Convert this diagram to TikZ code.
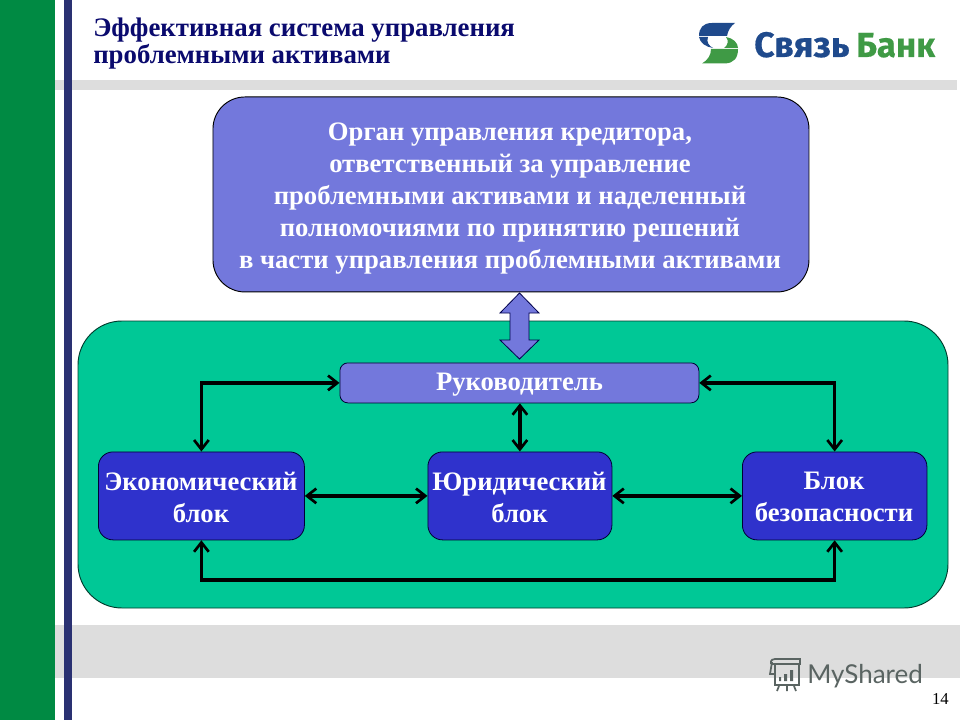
\documentclass[tikz,border=0pt]{standalone}
\usepackage{fontspec}
\setmainfont{Liberation Serif}
\newfontfamily\logofont[BoldFeatures={FakeBold=0.5}]{Fira Sans}
\newfontfamily\wmfont{Lato}
\usetikzlibrary{arrows.meta}
\definecolor{sidegreen}{HTML}{008A43}
\definecolor{sidenavy}{HTML}{2A3172}
\definecolor{bandgray}{HTML}{DDDDDD}
\definecolor{titlenavy}{HTML}{0A0A6E}
\definecolor{lilac}{HTML}{7378DC}
\definecolor{teal}{HTML}{00C896}
\definecolor{royal}{HTML}{2F32CC}
\definecolor{logoblue}{HTML}{1F4A8C}
\definecolor{logogreen}{HTML}{3F9A45}
\definecolor{wmgray}{HTML}{5A6462}
\tikzset{
  x=0.75pt,y=-0.75pt,
  boxtext/.style={text=white,font=\bfseries\fontsize{20}{24}\selectfont,align=center,inner sep=0pt},
  smallblock/.style={draw=black!80!blue,line width=0.6pt,fill=royal,rounded corners=11pt,minimum height=88*0.75pt,inner sep=0pt,anchor=north west},
  link/.style={line width=2.4pt,draw=black,{Straight Barb[length=7pt,width=11pt,line width=2pt]}-{Straight Barb[length=7pt,width=11pt,line width=2pt]}},
}
\begin{document}
\begin{tikzpicture}
\useasboundingbox (0,0) rectangle (960,720);
\fill[white] (0,0) rectangle (960,720);
% bands
\fill[bandgray] (55,80) rectangle (957,90);
\fill[bandgray] (55,625) rectangle (960,678);
\fill[sidegreen] (0,0) rectangle (55,720);
\fill[sidenavy] (64,0) rectangle (72,720);
% title
\node[anchor=north west,inner sep=0pt,text=titlenavy,align=left,font=\bfseries\fontsize{20.1}{20}\selectfont] (title) at (93,17.5) {Эффективная система управления\\проблемными активами};
% logo
\fill[logoblue] (735,23) -- (712,23) .. controls (703,23) and (699,28) .. (699,36) -- (727,36) .. controls (728,30) and (731,26) .. (735,23) -- cycle;
\fill[logoblue] (699,37) -- (708,37) .. controls (706,42) and (709,46) .. (713,48) .. controls (706,47) and (700,43) .. (699,37) -- cycle;
\fill[logogreen] (702,63.5) -- (725,63.5) .. controls (734,63) and (738,58) .. (738,49) -- (711,49) .. controls (711,55) and (708,60) .. (702,63.5) -- cycle;
\fill[logogreen] (726,37) .. controls (733,38) and (738,43) .. (738,48) -- (724,48) .. controls (728,45) and (729,41) .. (726,37) -- cycle;
\node[anchor=base west,inner sep=0pt,text=logoblue,font=\logofont\bfseries\fontsize{26.5}{27}\selectfont] (lg1) at (754,57) {Связь};
\node[anchor=base west,inner sep=0pt,text=logogreen,font=\logofont\bfseries\fontsize{26}{27}\selectfont] (lg2) at (856,57) {Банк};
% panels
\draw[draw=black!70!teal,line width=0.7pt,fill=teal,rounded corners=33pt] (78,321) rectangle (948,608);
\node[draw=black,line width=0.7pt,fill=lilac,rounded corners=24pt,minimum width=596*0.75pt,minimum height=195*0.75pt,inner sep=0pt,anchor=north west] (organ) at (212.5,96.5) {};
\node[boxtext] (organtxt) at (510,199) {Орган управления кредитора,\\ответственный за управление\\проблемными активами и наделенный\\полномочиями по принятию решений\\в части управления проблемными активами};
\node[draw=black!80!blue,line width=0.6pt,fill=lilac,rounded corners=6pt,minimum width=359*0.75pt,minimum height=40*0.75pt,inner sep=0pt,anchor=north west] (head) at (339.5,362.5) {};
\node[boxtext] (headtxt) at (519.5,384.5) {Руководитель};
\node[smallblock,minimum width=206*0.75pt] (econ) at (98,451.5) {};
\node[boxtext] (econtxt) at (201,497) {Экономический\\блок};
\node[smallblock,minimum width=184*0.75pt] (legal) at (427.5,451.5) {};
\node[boxtext] (legaltxt) at (519.5,497) {Юридический\\блок};
\node[smallblock,minimum width=184.5*0.75pt] (sec) at (742,451.5) {};
\node[boxtext] (sectxt) at (834,497) {Блок\\безопасности};
% block arrow
\draw[draw=black!70!blue,line width=0.6pt,fill=lilac] (519.5,293) -- (539,313) -- (529,313) -- (529,340) -- (539,340) -- (519.5,359) -- (500,340) -- (510,340) -- (510,313) -- (500,313) -- cycle;
% connectors
\coordinate (c3) at (201,580);
\draw[link] (econ.north) |- (head.west);
\draw[link] (sec.north) |- (head.east);
\draw[link] (econ.south) -- (econ.south|-c3) -- (sec.south|-c3) -- (sec.south);
\draw[link] (econ.east) -- (legal.west);
\draw[link] (legal.east) -- (sec.west);
\draw[link] (legal.north|-head.south) -- (legal.north);
% watermark
\begin{scope}[draw=wmgray,line width=1.3pt]
\draw (772,662) -- (770,674) -- (775,674);
\draw (775,659) .. controls (770,659) and (770,664) .. (772,664) -- (800,664) -- (800,659) -- cycle;
\draw (775,664) rectangle (799,685);
\fill[wmgray] (779,677) rectangle (781,681) (784,674) rectangle (787,681) (790,670) rectangle (793,681);
\draw (779,686) -- (777,691) (787,686) -- (787,691) (794,686) -- (796,691);
\end{scope}
\node[anchor=base west,inner sep=0pt,text=wmgray,font=\wmfont\fontsize{19.5}{21}\selectfont] (wm) at (807,683) {MyShared};
\node[anchor=base east,inner sep=0pt,font=\fontsize{12.5}{14}\selectfont] (pg) at (949,704) {14};
\end{tikzpicture}
\end{document}
